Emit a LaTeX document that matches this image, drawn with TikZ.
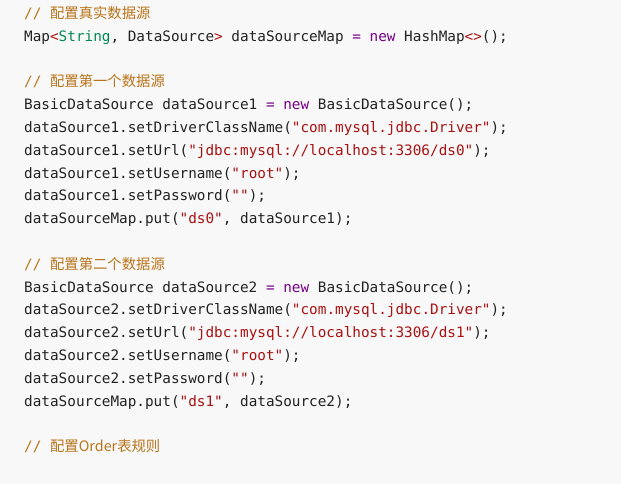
\documentclass[tikz,border=0pt]{standalone}
\usepackage{fontspec}
\setmonofont{DejaVu Sans Mono}[Scale=1]
\newfontfamily\cjk{Noto Sans CJK SC}
\definecolor{bg}{HTML}{F8F8F8}
\definecolor{cm}{HTML}{B8741A}
\definecolor{kw}{HTML}{770088}
\definecolor{st}{HTML}{AA1111}
\definecolor{ty}{HTML}{008855}
\definecolor{tx}{HTML}{222222}
\newcommand{\K}[1]{\textcolor{kw}{#1}}
\newcommand{\Sx}[1]{\textcolor{st}{#1}}
\newcommand{\T}[1]{\textcolor{ty}{#1}}
\newcommand{\C}[1]{\textcolor{cm}{// {\cjk #1}}}
\begin{document}
\begin{tikzpicture}[x=1bp,y=-1bp,
  ln/.style={anchor=base west,inner sep=0pt,text=tx,font=\ttfamily\fontsize{14.4}{16}\selectfont}]
\fill[bg] (0,0) rectangle (621,484);
\useasboundingbox (0,0) rectangle (621,484);
\node[ln] (l0) at (24,18.5) {\C{配置真实数据源}};
\node[ln] (l1) at (24,41.3) {Map\Sx{<}\T{String}, DataSource\Sx{>} dataSourceMap \K{=} \K{new} HashMap\Sx{<>}();};
\node[ln] (l3) at (24,86.9) {\C{配置第一个数据源}};
\node[ln] (l4) at (24,109.7) {BasicDataSource dataSource1 \K{=} \K{new} BasicDataSource();};
\node[ln] (l5) at (24,132.5) {dataSource1.setDriverClassName(\Sx{"com.mysql.jdbc.Driver"});};
\node[ln] (l6) at (24,155.3) {dataSource1.setUrl(\Sx{"jdbc:mysql://localhost:3306/ds0"});};
\node[ln] (l7) at (24,178.1) {dataSource1.setUsername(\Sx{"root"});};
\node[ln] (l8) at (24,200.9) {dataSource1.setPassword(\Sx{""});};
\node[ln] (l9) at (24,223.7) {dataSourceMap.put(\Sx{"ds0"}, dataSource1);};
\node[ln] (l11) at (24,269.3) {\C{配置第二个数据源}};
\node[ln] (l12) at (24,292.1) {BasicDataSource dataSource2 \K{=} \K{new} BasicDataSource();};
\node[ln] (l13) at (24,314.9) {dataSource2.setDriverClassName(\Sx{"com.mysql.jdbc.Driver"});};
\node[ln] (l14) at (24,337.7) {dataSource2.setUrl(\Sx{"jdbc:mysql://localhost:3306/ds1"});};
\node[ln] (l15) at (24,360.5) {dataSource2.setUsername(\Sx{"root"});};
\node[ln] (l16) at (24,383.3) {dataSource2.setPassword(\Sx{""});};
\node[ln] (l17) at (24,406.1) {dataSourceMap.put(\Sx{"ds1"}, dataSource2);};
\node[ln] (l19) at (24,451.7) {\C{配置Order表规则}};
\end{tikzpicture}
\end{document}
